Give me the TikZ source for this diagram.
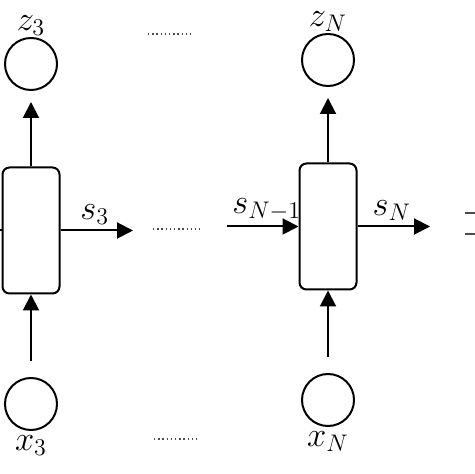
\documentclass[tikz,border=0pt]{standalone}
\usetikzlibrary{arrows.meta}

\begin{document}
\begin{tikzpicture}[x=0.5pt, y=0.5pt,
    cell/.style={draw, line width=1pt, rounded corners=3.5pt, minimum width=28.5pt, minimum height=63pt, inner sep=0pt},
    unit/.style={draw, line width=1pt, circle, minimum size=26pt, inner sep=0pt},
    flow/.style={line width=1pt, -{Triangle[length=8pt, width=8pt]}},
    lbl/.style={font=\LARGE, inner sep=1pt},
    gap/.style={black!70, line width=0.9pt, dash pattern=on 0.7pt off 1.4pt}]
    \useasboundingbox (0,0) rectangle (474,474);

    % Celda 3
    \node[cell] (c3) at (31,243.5) {};
    \node[unit, label={[lbl, label distance=-0.5pt]above:$z_3$}] (z3) at (31,410) {};
    \node[unit, label={[lbl, label distance=1pt]below:$x_3$}] (x3) at (31,70) {};
    \draw[flow, shorten >=5.5pt] (c3) -- (z3);
    \draw[flow, shorten <=8pt] (x3) -- (c3);

    % Estados de la celda 3
    \coordinate (in3) at (-10,243.5);
    \coordinate (out3) at (133,243.5);
    \draw[line width=1pt] (in3) -- (c3.west);
    \draw[flow] (c3.east) -- node[lbl, above=1.5pt, xshift=-1pt] {$s_3$} (out3);

    % Puntos suspensivos
    \draw[gap] (148,440) -- (194,440);
    \draw[gap] (153,245) -- (200,245);
    \draw[gap] (154,35) -- (200,35);

    % Celda N
    \node[cell] (cN) at (328,247.5) {};
    \node[unit, label={[lbl, label distance=-0.5pt]above:$z_N$}] (zN) at (328,414) {};
    \node[unit, label={[lbl, label distance=1pt]below:$x_N$}] (xN) at (328,74) {};
    \draw[flow, shorten >=5.5pt] (cN) -- (zN);
    \draw[flow, shorten <=8pt] (xN) -- (cN);

    % Estados de la celda N
    \coordinate (inN) at (227,247.5);
    \coordinate (outN) at (430,247.5);
    \draw[flow] (inN) -- node[lbl, above=1.5pt, xshift=2pt] {$s_{N-1}$} (cN.west);
    \draw[flow] (cN.east) -- node[lbl, above=1.5pt, xshift=-1pt] {$s_N$} (outN);

    % Borde derecho
    \draw[black!70, line width=0.9pt] (465,261) -- (480,261);
    \draw[black!70, line width=0.9pt] (465,240) -- (480,240);
\end{tikzpicture}
\end{document}
